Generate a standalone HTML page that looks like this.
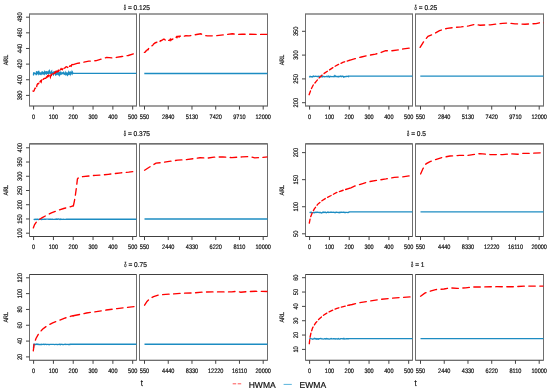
<!DOCTYPE html><html><head><meta charset="utf-8"><style>html,body{margin:0;padding:0;background:#fff;}svg{display:block;}</style></head><body><svg width="550" height="392" viewBox="0 0 550 392" font-family="'Liberation Sans', Arial, sans-serif" text-rendering="geometricPrecision"><defs><clipPath id="cA0"><rect x="29.5" y="14" width="107" height="92"/></clipPath><clipPath id="cB0"><rect x="139.5" y="14" width="128" height="92"/></clipPath><clipPath id="cA1"><rect x="305.5" y="14" width="107" height="92"/></clipPath><clipPath id="cB1"><rect x="415.5" y="14" width="128" height="92"/></clipPath><clipPath id="cA2"><rect x="29.5" y="143.9" width="107" height="92.55"/></clipPath><clipPath id="cB2"><rect x="139.5" y="143.9" width="128" height="92.55"/></clipPath><clipPath id="cA3"><rect x="305.5" y="143.9" width="107" height="92.55"/></clipPath><clipPath id="cB3"><rect x="415.5" y="143.9" width="128" height="92.55"/></clipPath><clipPath id="cA4"><rect x="29.5" y="274.5" width="107" height="85.7"/></clipPath><clipPath id="cB4"><rect x="139.5" y="274.5" width="128" height="85.7"/></clipPath><clipPath id="cA5"><rect x="305.5" y="274.5" width="107" height="85.7"/></clipPath><clipPath id="cB5"><rect x="415.5" y="274.5" width="128" height="85.7"/></clipPath></defs><rect width="550" height="392" fill="#fff"/><path d="M29.5,14H136.5M29.5,106H136.5" stroke="#404040" stroke-width="1.1" fill="none"/>
<path d="M29.5,13.5V106.5M136.5,13.5V106.5" stroke="#6e6e6e" stroke-width="1" fill="none"/>
<path d="M139.5,14H267.5M139.5,106H267.5" stroke="#404040" stroke-width="1.1" fill="none"/>
<path d="M139.5,13.5V106.5M267.5,13.5V106.5" stroke="#6e6e6e" stroke-width="1" fill="none"/>
<line x1="33.6" y1="106" x2="33.6" y2="109.6" stroke="#444"/>
<text transform="translate(33.6,118.9) scale(0.87,1)" font-size="6.4" text-anchor="middle" fill="#111" stroke="#111" stroke-width="0.2">0</text>
<line x1="53.41" y1="106" x2="53.41" y2="109.6" stroke="#444"/>
<text transform="translate(53.41,118.9) scale(0.87,1)" font-size="6.4" text-anchor="middle" fill="#111" stroke="#111" stroke-width="0.2">100</text>
<line x1="73.23" y1="106" x2="73.23" y2="109.6" stroke="#444"/>
<text transform="translate(73.23,118.9) scale(0.87,1)" font-size="6.4" text-anchor="middle" fill="#111" stroke="#111" stroke-width="0.2">200</text>
<line x1="93.05" y1="106" x2="93.05" y2="109.6" stroke="#444"/>
<text transform="translate(93.05,118.9) scale(0.87,1)" font-size="6.4" text-anchor="middle" fill="#111" stroke="#111" stroke-width="0.2">300</text>
<line x1="112.86" y1="106" x2="112.86" y2="109.6" stroke="#444"/>
<text transform="translate(112.86,118.9) scale(0.87,1)" font-size="6.4" text-anchor="middle" fill="#111" stroke="#111" stroke-width="0.2">400</text>
<line x1="132.68" y1="106" x2="132.68" y2="109.6" stroke="#444"/>
<text transform="translate(132.68,118.9) scale(0.87,1)" font-size="6.4" text-anchor="middle" fill="#111" stroke="#111" stroke-width="0.2">500</text>
<line x1="144.5" y1="106" x2="144.5" y2="109.6" stroke="#444"/>
<text transform="translate(144.5,118.9) scale(0.87,1)" font-size="6.4" text-anchor="middle" fill="#111" stroke="#111" stroke-width="0.2">550</text>
<line x1="168.24" y1="106" x2="168.24" y2="109.6" stroke="#444"/>
<text transform="translate(168.24,118.9) scale(0.87,1)" font-size="6.4" text-anchor="middle" fill="#111" stroke="#111" stroke-width="0.2">2840</text>
<line x1="191.98" y1="106" x2="191.98" y2="109.6" stroke="#444"/>
<text transform="translate(191.98,118.9) scale(0.87,1)" font-size="6.4" text-anchor="middle" fill="#111" stroke="#111" stroke-width="0.2">5130</text>
<line x1="215.72" y1="106" x2="215.72" y2="109.6" stroke="#444"/>
<text transform="translate(215.72,118.9) scale(0.87,1)" font-size="6.4" text-anchor="middle" fill="#111" stroke="#111" stroke-width="0.2">7420</text>
<line x1="239.46" y1="106" x2="239.46" y2="109.6" stroke="#444"/>
<text transform="translate(239.46,118.9) scale(0.87,1)" font-size="6.4" text-anchor="middle" fill="#111" stroke="#111" stroke-width="0.2">9710</text>
<line x1="263.2" y1="106" x2="263.2" y2="109.6" stroke="#444"/>
<text transform="translate(263.2,118.9) scale(0.87,1)" font-size="6.4" text-anchor="middle" fill="#111" stroke="#111" stroke-width="0.2">12000</text>
<line x1="29.5" y1="95.4" x2="26" y2="95.4" stroke="#444"/>
<text transform="translate(21.9,95.4) rotate(-90) scale(0.86,1)" font-size="6.6" text-anchor="middle" fill="#111" stroke="#111" stroke-width="0.2">380</text>
<line x1="29.5" y1="79.76" x2="26" y2="79.76" stroke="#444"/>
<text transform="translate(21.9,79.76) rotate(-90) scale(0.86,1)" font-size="6.6" text-anchor="middle" fill="#111" stroke="#111" stroke-width="0.2">400</text>
<line x1="29.5" y1="64.12" x2="26" y2="64.12" stroke="#444"/>
<text transform="translate(21.9,64.12) rotate(-90) scale(0.86,1)" font-size="6.6" text-anchor="middle" fill="#111" stroke="#111" stroke-width="0.2">420</text>
<line x1="29.5" y1="48.48" x2="26" y2="48.48" stroke="#444"/>
<text transform="translate(21.9,48.48) rotate(-90) scale(0.86,1)" font-size="6.6" text-anchor="middle" fill="#111" stroke="#111" stroke-width="0.2">440</text>
<line x1="29.5" y1="32.84" x2="26" y2="32.84" stroke="#444"/>
<text transform="translate(21.9,32.84) rotate(-90) scale(0.86,1)" font-size="6.6" text-anchor="middle" fill="#111" stroke="#111" stroke-width="0.2">460</text>
<line x1="29.5" y1="17.2" x2="26" y2="17.2" stroke="#444"/>
<text transform="translate(21.9,17.2) rotate(-90) scale(0.86,1)" font-size="6.6" text-anchor="middle" fill="#111" stroke="#111" stroke-width="0.2">480</text>
<text transform="translate(7.9,60) rotate(-90) scale(0.86,1)" font-size="6.3" text-anchor="middle" fill="#111" stroke="#111" stroke-width="0.2">ARL</text>
<text transform="translate(123.7,9.7) scale(0.58,1)" font-size="7.0" text-anchor="start" fill="#111" stroke="#111" stroke-width="0.2">δ</text>
<text transform="translate(127.9,9.7) scale(0.935,1)" font-size="7.0" text-anchor="start" fill="#111" stroke="#111" stroke-width="0.2">= 0.125</text>
<path d="M33.1,74.69 L33.45,74.84 L33.8,72.32 L34.15,73.43 L34.5,73.6 L34.85,73.53 L35.2,73.4 L35.55,73.34 L35.9,73.71 L36.25,75.17 L36.6,71.19 L36.95,72.81 L37.3,73.19 L37.65,73.51 L38,72.71 L38.35,73.42 L38.7,70.72 L39.05,73.6 L39.4,73.02 L39.75,72.93 L40.1,74.01 L40.45,73.97 L40.8,74.29 L41.15,73.03 L41.5,73 L41.85,74.55 L42.2,71.28 L42.55,73.36 L42.9,72.92 L43.25,73.68 L43.6,73 L43.95,72.63 L44.3,73.59 L44.65,72.34 L45,73.66 L45.35,73.45 L45.7,71.32 L46.05,72.92 L46.4,73.54 L46.75,72.33 L47.1,71.29 L47.45,73.22 L47.8,73.27 L48.15,72.63 L48.5,74.16 L48.85,71.81 L49.2,72.33 L49.55,71.3 L49.9,72.9 L50.25,73.16 L50.6,72.93 L50.95,73.99 L51.3,71.82 L51.65,71.32 L52,74.33 L52.35,72.29 L52.7,73.35 L53.05,74.41 L53.4,74.73 L53.75,71.96 L54.1,71.84 L54.45,72.68 L54.8,73.19 L55.15,72.57 L55.5,74.16 L55.85,73.51 L56.2,74.68 L56.55,74.44 L56.9,71.76 L57.25,70.82 L57.6,74.03 L57.95,74.39 L58.3,73.77 L58.65,75.39 L59,73.58 L59.35,74.45 L59.7,71.94 L60.05,74.33 L60.4,73.84 L60.75,72.96 L61.1,74.5 L61.45,72.96 L61.8,72.97 L62.15,73.48 L62.5,73.01 L62.85,73.22 L63.2,73.16 L63.55,72.61 L63.9,73.68 L64.25,74.39 L64.6,74.2 L64.95,74.01 L65.3,72.77 L65.65,73.77 L66,72.47 L66.35,75.14 L66.7,73.63 L67.05,74.36 L67.4,72.65 L67.75,74.52 L68.1,73.87 L68.45,72.57 L68.8,73.78 L69.15,73.17 L69.5,73.73 L69.85,72.89 L70.2,73.98 L70.55,72.77 L70.9,73.35 L71.25,72.01 L71.6,73.67 L71.95,72.29 L72.3,73.52 L72.65,72.82 L73,73.81 L73,73.4 L138,73.4" fill="none" stroke="#1c8cc2" stroke-width="1.4" clip-path="url(#cA0)"/>
<path d="M144.3,73.5 L268,73.5" fill="none" stroke="#1c8cc2" stroke-width="1.4" clip-path="url(#cB0)"/>
<path d="M33,91.03 L33.52,91.21 L34.04,90.85 L34.56,89.32 L35.08,88.17 L35.6,88.16 L36.1,87.54 L36.6,86.96 L37.1,84.77 L37.6,83.81 L38.1,83.99 L38.62,83.34 L39.13,83.41 L39.65,82.59 L40.17,81.48 L40.68,80.87 L41.2,81.91 L41.66,80.06 L42.11,79.51 L42.57,79.04 L43.02,79.44 L43.48,79.19 L43.93,78.64 L44.39,78.52 L44.84,78.43 L45.3,78.38 L45.75,78.34 L46.2,77.59 L46.65,76.23 L47.1,77.34 L47.55,75.91 L48,76.33 L48.45,75.35 L48.9,75.9 L49.4,75.26 L49.9,75.59 L50.4,77.07 L50.9,75.02 L51.4,75.29 L51.9,73.89 L52.4,74.24 L52.86,74.48 L53.31,73.77 L53.77,73.74 L54.22,73.3 L54.68,72.4 L55.13,72.98 L55.59,71.93 L56.04,73.12 L56.5,71.52 L56.96,71.9 L57.41,71.25 L57.87,71.49 L58.32,70.36 L58.78,70.96 L59.23,70.07 L59.69,70.55 L60.14,69.92 L60.6,69.38 L61.08,68.7 L61.55,69.37 L62.02,69.03 L62.5,69.5 L62.98,68.22 L63.45,68.56 L63.92,68.35 L64.4,68.06 L64.88,67.84 L65.35,67.65 L65.83,67.05 L66.3,66.64 L66.78,66.79 L67.27,67.14 L67.75,67.45 L68.24,66.97 L68.72,66.82 L69.21,66.47 L69.69,66.24 L70.18,65.76 L70.66,65.89 L71.15,66.25 L71.63,64.9 L72.12,64.51 L72.6,64.7 L73.2,64.53" fill="none" stroke="#f00" stroke-width="1.35" stroke-dasharray="4.5 2.0" stroke-linecap="round" clip-path="url(#cA0)"/>
<path d="M73.2,64.53 L77.1,63.4 L82,62.6 L88.8,61.2 L96.4,60.6 L106.6,57.4 L113,58 L121.9,56.5 L128.3,55.5 L135.3,53.3 L138,52.5" fill="none" stroke="#f00" stroke-width="1.35" stroke-dasharray="6.5 4.5" stroke-linecap="round" clip-path="url(#cA0)"/>
<path d="M144.4,52.39 L144.93,52.38 L145.45,51.6 L145.97,50.93 L146.5,50.84 L147.06,50.04 L147.62,49.44 L148.18,49.69 L148.74,48.41 L149.3,47.66 L149.87,47.04 L150.43,46.75 L151,46.58 L151.57,46.06 L152.13,45.58 L152.7,45.25 L153.2,44.7 L153.7,43.83 L154.2,43.58 L154.78,43.14 L155.36,42.51 L155.94,42.8 L156.52,42.34 L157.1,42.04 L157.62,42.67 L158.15,42.09 L158.67,41.5 L159.2,41.49 L159.8,41.99 L160.4,40.73 L161,40.73 L161.6,40.34 L162.12,40.12 L162.64,39.97 L163.16,39.41 L163.68,39.24 L164.2,39.16 L164.77,39.44 L165.35,40.21 L165.93,40.82 L166.5,40.3 L167.04,40.79 L167.58,40.23 L168.12,40.31 L168.66,40.45 L169.2,40.56 L169.75,40.15 L170.3,39.16 L170.85,40.36 L171.4,39.56 L171.95,39.21 L172.5,39.46 L173,38.81 L173.5,38.31 L174,38.79 L174.5,38.57 L175,37.93 L175.5,38.18 L176,37.67 L176.5,36.8 L177,37.48 L177.5,36.61 L178.01,36.11 L178.52,36.66 L179.03,36.53 L179.54,36.82 L180.05,35.99 L180.56,36.83 L181.07,36.78 L181.58,36.69 L182.09,36.65 L182.6,36.4 L185.8,35.8 L189,35.9 L194.1,34.9 L200.7,33.8 L204,35.3 L207.3,35.8 L215.6,35.8 L223.9,34.8 L232.2,33.8 L237,34.4 L242.1,34.2 L245.5,34.2 L257.4,34.4 L268,34.3" fill="none" stroke="#f00" stroke-width="1.35" stroke-dasharray="6.5 4.5" stroke-linecap="round" clip-path="url(#cB0)"/>
<path d="M305.5,14H412.5M305.5,106H412.5" stroke="#404040" stroke-width="1.1" fill="none"/>
<path d="M305.5,13.5V106.5M412.5,13.5V106.5" stroke="#6e6e6e" stroke-width="1" fill="none"/>
<path d="M415.5,14H543.5M415.5,106H543.5" stroke="#404040" stroke-width="1.1" fill="none"/>
<path d="M415.5,13.5V106.5M543.5,13.5V106.5" stroke="#6e6e6e" stroke-width="1" fill="none"/>
<line x1="309.6" y1="106" x2="309.6" y2="109.6" stroke="#444"/>
<text transform="translate(309.6,118.9) scale(0.87,1)" font-size="6.4" text-anchor="middle" fill="#111" stroke="#111" stroke-width="0.2">0</text>
<line x1="329.42" y1="106" x2="329.42" y2="109.6" stroke="#444"/>
<text transform="translate(329.42,118.9) scale(0.87,1)" font-size="6.4" text-anchor="middle" fill="#111" stroke="#111" stroke-width="0.2">100</text>
<line x1="349.23" y1="106" x2="349.23" y2="109.6" stroke="#444"/>
<text transform="translate(349.23,118.9) scale(0.87,1)" font-size="6.4" text-anchor="middle" fill="#111" stroke="#111" stroke-width="0.2">200</text>
<line x1="369.05" y1="106" x2="369.05" y2="109.6" stroke="#444"/>
<text transform="translate(369.05,118.9) scale(0.87,1)" font-size="6.4" text-anchor="middle" fill="#111" stroke="#111" stroke-width="0.2">300</text>
<line x1="388.86" y1="106" x2="388.86" y2="109.6" stroke="#444"/>
<text transform="translate(388.86,118.9) scale(0.87,1)" font-size="6.4" text-anchor="middle" fill="#111" stroke="#111" stroke-width="0.2">400</text>
<line x1="408.68" y1="106" x2="408.68" y2="109.6" stroke="#444"/>
<text transform="translate(408.68,118.9) scale(0.87,1)" font-size="6.4" text-anchor="middle" fill="#111" stroke="#111" stroke-width="0.2">500</text>
<line x1="420.5" y1="106" x2="420.5" y2="109.6" stroke="#444"/>
<text transform="translate(420.5,118.9) scale(0.87,1)" font-size="6.4" text-anchor="middle" fill="#111" stroke="#111" stroke-width="0.2">550</text>
<line x1="444.24" y1="106" x2="444.24" y2="109.6" stroke="#444"/>
<text transform="translate(444.24,118.9) scale(0.87,1)" font-size="6.4" text-anchor="middle" fill="#111" stroke="#111" stroke-width="0.2">2840</text>
<line x1="467.98" y1="106" x2="467.98" y2="109.6" stroke="#444"/>
<text transform="translate(467.98,118.9) scale(0.87,1)" font-size="6.4" text-anchor="middle" fill="#111" stroke="#111" stroke-width="0.2">5130</text>
<line x1="491.72" y1="106" x2="491.72" y2="109.6" stroke="#444"/>
<text transform="translate(491.72,118.9) scale(0.87,1)" font-size="6.4" text-anchor="middle" fill="#111" stroke="#111" stroke-width="0.2">7420</text>
<line x1="515.46" y1="106" x2="515.46" y2="109.6" stroke="#444"/>
<text transform="translate(515.46,118.9) scale(0.87,1)" font-size="6.4" text-anchor="middle" fill="#111" stroke="#111" stroke-width="0.2">9710</text>
<line x1="539.2" y1="106" x2="539.2" y2="109.6" stroke="#444"/>
<text transform="translate(539.2,118.9) scale(0.87,1)" font-size="6.4" text-anchor="middle" fill="#111" stroke="#111" stroke-width="0.2">12000</text>
<line x1="305.5" y1="102.7" x2="302" y2="102.7" stroke="#444"/>
<text transform="translate(297.9,102.7) rotate(-90) scale(0.86,1)" font-size="6.6" text-anchor="middle" fill="#111" stroke="#111" stroke-width="0.2">200</text>
<line x1="305.5" y1="78.9" x2="302" y2="78.9" stroke="#444"/>
<text transform="translate(297.9,78.9) rotate(-90) scale(0.86,1)" font-size="6.6" text-anchor="middle" fill="#111" stroke="#111" stroke-width="0.2">250</text>
<line x1="305.5" y1="55.1" x2="302" y2="55.1" stroke="#444"/>
<text transform="translate(297.9,55.1) rotate(-90) scale(0.86,1)" font-size="6.6" text-anchor="middle" fill="#111" stroke="#111" stroke-width="0.2">300</text>
<line x1="305.5" y1="31.3" x2="302" y2="31.3" stroke="#444"/>
<text transform="translate(297.9,31.3) rotate(-90) scale(0.86,1)" font-size="6.6" text-anchor="middle" fill="#111" stroke="#111" stroke-width="0.2">350</text>
<text transform="translate(283.9,60) rotate(-90) scale(0.86,1)" font-size="6.3" text-anchor="middle" fill="#111" stroke="#111" stroke-width="0.2">ARL</text>
<text transform="translate(414.6,9.6) scale(0.58,1)" font-size="7.0" text-anchor="start" fill="#111" stroke="#111" stroke-width="0.2">δ</text>
<text transform="translate(418.8,9.6) scale(0.935,1)" font-size="7.0" text-anchor="start" fill="#111" stroke="#111" stroke-width="0.2">= 0.25</text>
<path d="M309.3,77.42 L310.1,76.37 L310.9,76.74 L311.7,76.65 L312.5,76.88 L313.3,76.13 L314.1,76.46 L314.9,76.35 L315.7,76.25 L316.5,76.33 L317.3,76.44 L318.1,76.51 L318.9,76.31 L319.7,76.73 L320.5,76.43 L321.3,75.62 L322.1,76.96 L322.9,76.48 L323.7,76.38 L324.5,76.68 L325.3,76.67 L326.1,76.62 L326.9,76.35 L327.7,76.65 L328.5,76.17 L329.3,77 L330.1,76.25 L330.9,76.54 L331.7,76.61 L332.5,76.66 L333.3,76.53 L334.1,76.73 L334.9,75.66 L335.7,76.54 L336.5,76.53 L337.3,76.46 L338.1,76.95 L338.9,76.33 L339.7,76.55 L340.5,76.08 L341.3,76.63 L342.1,76.19 L342.9,76.21 L343.7,77.11 L344.5,76.73 L345.3,76.57 L346.1,76.61 L346.9,76.26 L347.7,76.35 L348.5,76.66 L348.6,76.1 L414,76.1" fill="none" stroke="#1c8cc2" stroke-width="1.4" clip-path="url(#cA1)"/>
<path d="M420.3,76.1 L544,76.1" fill="none" stroke="#1c8cc2" stroke-width="1.4" clip-path="url(#cB1)"/>
<path d="M309.1,94.7 L311,89.5 L313.3,84.9 L316.2,81.4 L319.6,77.4 L324.2,73.4 L329.4,69.9 L334.6,66.5 L338.5,64.4 L343.3,62.2 L349.2,60.44" fill="none" stroke="#f00" stroke-width="1.35" stroke-dasharray="4 2.6" stroke-linecap="round" clip-path="url(#cA1)"/>
<path d="M349.2,60.44 L351,59.9 L355,58.7 L361.4,57 L367.8,55.5 L375.4,54.2 L380.5,52.7 L385.6,50.7 L392,50.7 L398.4,49.8 L403.5,48.9 L411.1,47.9 L414,47.5" fill="none" stroke="#f00" stroke-width="1.35" stroke-dasharray="6.5 4.5" stroke-linecap="round" clip-path="url(#cA1)"/>
<path d="M420.1,47.4 L424.2,40.8 L428,36.3 L433.1,34.4 L439.5,30.6 L447.2,28.3 L454.8,27.4 L461.2,26.8 L468.8,25.9 L475.2,24.2 L480,25.2 L490.4,24.8 L502.7,23.3 L507.7,23 L515.1,23.8 L525,24.2 L536.1,23.6 L539.8,22.7 L544,22.7" fill="none" stroke="#f00" stroke-width="1.35" stroke-dasharray="6.5 4.5" stroke-linecap="round" clip-path="url(#cB1)"/>
<path d="M29.5,143.9H136.5M29.5,236.45H136.5" stroke="#404040" stroke-width="1.1" fill="none"/>
<path d="M29.5,143.4V236.95M136.5,143.4V236.95" stroke="#6e6e6e" stroke-width="1" fill="none"/>
<path d="M139.5,143.9H267.5M139.5,236.45H267.5" stroke="#404040" stroke-width="1.1" fill="none"/>
<path d="M139.5,143.4V236.95M267.5,143.4V236.95" stroke="#6e6e6e" stroke-width="1" fill="none"/>
<line x1="33.6" y1="236.45" x2="33.6" y2="240.05" stroke="#444"/>
<text transform="translate(33.6,249.35) scale(0.87,1)" font-size="6.4" text-anchor="middle" fill="#111" stroke="#111" stroke-width="0.2">0</text>
<line x1="53.41" y1="236.45" x2="53.41" y2="240.05" stroke="#444"/>
<text transform="translate(53.41,249.35) scale(0.87,1)" font-size="6.4" text-anchor="middle" fill="#111" stroke="#111" stroke-width="0.2">100</text>
<line x1="73.23" y1="236.45" x2="73.23" y2="240.05" stroke="#444"/>
<text transform="translate(73.23,249.35) scale(0.87,1)" font-size="6.4" text-anchor="middle" fill="#111" stroke="#111" stroke-width="0.2">200</text>
<line x1="93.05" y1="236.45" x2="93.05" y2="240.05" stroke="#444"/>
<text transform="translate(93.05,249.35) scale(0.87,1)" font-size="6.4" text-anchor="middle" fill="#111" stroke="#111" stroke-width="0.2">300</text>
<line x1="112.86" y1="236.45" x2="112.86" y2="240.05" stroke="#444"/>
<text transform="translate(112.86,249.35) scale(0.87,1)" font-size="6.4" text-anchor="middle" fill="#111" stroke="#111" stroke-width="0.2">400</text>
<line x1="132.68" y1="236.45" x2="132.68" y2="240.05" stroke="#444"/>
<text transform="translate(132.68,249.35) scale(0.87,1)" font-size="6.4" text-anchor="middle" fill="#111" stroke="#111" stroke-width="0.2">500</text>
<line x1="144.5" y1="236.45" x2="144.5" y2="240.05" stroke="#444"/>
<text transform="translate(144.5,249.35) scale(0.87,1)" font-size="6.4" text-anchor="middle" fill="#111" stroke="#111" stroke-width="0.2">550</text>
<line x1="168.24" y1="236.45" x2="168.24" y2="240.05" stroke="#444"/>
<text transform="translate(168.24,249.35) scale(0.87,1)" font-size="6.4" text-anchor="middle" fill="#111" stroke="#111" stroke-width="0.2">2440</text>
<line x1="191.98" y1="236.45" x2="191.98" y2="240.05" stroke="#444"/>
<text transform="translate(191.98,249.35) scale(0.87,1)" font-size="6.4" text-anchor="middle" fill="#111" stroke="#111" stroke-width="0.2">4330</text>
<line x1="215.72" y1="236.45" x2="215.72" y2="240.05" stroke="#444"/>
<text transform="translate(215.72,249.35) scale(0.87,1)" font-size="6.4" text-anchor="middle" fill="#111" stroke="#111" stroke-width="0.2">6220</text>
<line x1="239.46" y1="236.45" x2="239.46" y2="240.05" stroke="#444"/>
<text transform="translate(239.46,249.35) scale(0.87,1)" font-size="6.4" text-anchor="middle" fill="#111" stroke="#111" stroke-width="0.2">8110</text>
<line x1="263.2" y1="236.45" x2="263.2" y2="240.05" stroke="#444"/>
<text transform="translate(263.2,249.35) scale(0.87,1)" font-size="6.4" text-anchor="middle" fill="#111" stroke="#111" stroke-width="0.2">10000</text>
<line x1="29.5" y1="233.2" x2="26" y2="233.2" stroke="#444"/>
<text transform="translate(21.9,233.2) rotate(-90) scale(0.86,1)" font-size="6.6" text-anchor="middle" fill="#111" stroke="#111" stroke-width="0.2">100</text>
<line x1="29.5" y1="218.96" x2="26" y2="218.96" stroke="#444"/>
<text transform="translate(21.9,218.96) rotate(-90) scale(0.86,1)" font-size="6.6" text-anchor="middle" fill="#111" stroke="#111" stroke-width="0.2">150</text>
<line x1="29.5" y1="204.73" x2="26" y2="204.73" stroke="#444"/>
<text transform="translate(21.9,204.73) rotate(-90) scale(0.86,1)" font-size="6.6" text-anchor="middle" fill="#111" stroke="#111" stroke-width="0.2">200</text>
<line x1="29.5" y1="190.5" x2="26" y2="190.5" stroke="#444"/>
<text transform="translate(21.9,190.5) rotate(-90) scale(0.86,1)" font-size="6.6" text-anchor="middle" fill="#111" stroke="#111" stroke-width="0.2">250</text>
<line x1="29.5" y1="176.26" x2="26" y2="176.26" stroke="#444"/>
<text transform="translate(21.9,176.26) rotate(-90) scale(0.86,1)" font-size="6.6" text-anchor="middle" fill="#111" stroke="#111" stroke-width="0.2">300</text>
<line x1="29.5" y1="162.02" x2="26" y2="162.02" stroke="#444"/>
<text transform="translate(21.9,162.02) rotate(-90) scale(0.86,1)" font-size="6.6" text-anchor="middle" fill="#111" stroke="#111" stroke-width="0.2">350</text>
<line x1="29.5" y1="147.79" x2="26" y2="147.79" stroke="#444"/>
<text transform="translate(21.9,147.79) rotate(-90) scale(0.86,1)" font-size="6.6" text-anchor="middle" fill="#111" stroke="#111" stroke-width="0.2">400</text>
<text transform="translate(7.9,190.18) rotate(-90) scale(0.86,1)" font-size="6.3" text-anchor="middle" fill="#111" stroke="#111" stroke-width="0.2">ARL</text>
<text transform="translate(123.7,136.2) scale(0.58,1)" font-size="7.0" text-anchor="start" fill="#111" stroke="#111" stroke-width="0.2">δ</text>
<text transform="translate(127.9,136.2) scale(0.935,1)" font-size="7.0" text-anchor="start" fill="#111" stroke="#111" stroke-width="0.2">= 0.375</text>
<path d="M33.6,219.31 L34.4,219.49 L35.2,219.16 L36,219.44 L36.8,219.26 L37.6,219.26 L38.4,219.57 L39.2,219.32 L40,219.29 L40.8,219.4 L41.6,219.45 L42.4,219.3 L43.2,219.38 L44,219.17 L44.8,219.25 L45.6,219.24 L46.4,219.13 L47.2,219.11 L48,219.09 L48.8,219.27 L49.6,219.28 L50.4,219.26 L51.2,219.31 L52,219.14 L52.8,219.29 L53.6,219.33 L54.4,219.39 L55.2,219.2 L56,219.25 L56.8,219.07 L57.6,219.24 L58.4,219.06 L59.2,219.15 L60,219.42 L60.8,219.07 L61.6,219.38 L62.4,219.33 L63.2,219.27 L64,219.35 L64.8,219.35 L65.6,219.4 L66.4,219.28 L67.2,219.24 L68,219.24 L68.8,219.21 L69.6,219.3 L70,219.2 L138,219.2" fill="none" stroke="#1c8cc2" stroke-width="1.4" clip-path="url(#cA2)"/>
<path d="M144.5,219 L268,219" fill="none" stroke="#1c8cc2" stroke-width="1.4" clip-path="url(#cB2)"/>
<path d="M33.3,227.9 L34.6,224.6 L36.7,221.7 L39.2,219.5 L42.3,217.7 L46.3,215.4 L51.4,212.9 L57.6,210.5 L63.7,208.5 L69.8,207 L73.2,205.77" fill="none" stroke="#f00" stroke-width="1.35" stroke-dasharray="6.5 4.5" stroke-linecap="round" clip-path="url(#cA2)"/>
<path d="M73.2,205.77 L73.4,205.7 L74.4,201.1 L75.4,195 L76.5,187 L77.4,179.1 L78.3,177.9 L82.8,176.6 L95.5,175.3 L103.2,174.9 L108.3,174.3 L121,172.8 L128.7,172.1 L135.7,171.2 L138,170.9" fill="none" stroke="#f00" stroke-width="1.35" stroke-dasharray="6.5 4.5" stroke-linecap="round" clip-path="url(#cA2)"/>
<path d="M144.6,170.2 L150,166.8 L156,163.2 L162,162.6 L169.2,161.4 L177.6,160.2 L186,159.6 L194.4,158.6 L200,157.8 L207.6,158.1 L214,157.2 L222.9,156.9 L231.8,157.6 L242,156.9 L249.6,156.5 L254.7,157.8 L261.1,157.6 L268,156.8" fill="none" stroke="#f00" stroke-width="1.35" stroke-dasharray="6.5 4.5" stroke-linecap="round" clip-path="url(#cB2)"/>
<path d="M305.5,143.9H412.5M305.5,236.45H412.5" stroke="#404040" stroke-width="1.1" fill="none"/>
<path d="M305.5,143.4V236.95M412.5,143.4V236.95" stroke="#6e6e6e" stroke-width="1" fill="none"/>
<path d="M415.5,143.9H543.5M415.5,236.45H543.5" stroke="#404040" stroke-width="1.1" fill="none"/>
<path d="M415.5,143.4V236.95M543.5,143.4V236.95" stroke="#6e6e6e" stroke-width="1" fill="none"/>
<line x1="309.6" y1="236.45" x2="309.6" y2="240.05" stroke="#444"/>
<text transform="translate(309.6,249.35) scale(0.87,1)" font-size="6.4" text-anchor="middle" fill="#111" stroke="#111" stroke-width="0.2">0</text>
<line x1="329.42" y1="236.45" x2="329.42" y2="240.05" stroke="#444"/>
<text transform="translate(329.42,249.35) scale(0.87,1)" font-size="6.4" text-anchor="middle" fill="#111" stroke="#111" stroke-width="0.2">100</text>
<line x1="349.23" y1="236.45" x2="349.23" y2="240.05" stroke="#444"/>
<text transform="translate(349.23,249.35) scale(0.87,1)" font-size="6.4" text-anchor="middle" fill="#111" stroke="#111" stroke-width="0.2">200</text>
<line x1="369.05" y1="236.45" x2="369.05" y2="240.05" stroke="#444"/>
<text transform="translate(369.05,249.35) scale(0.87,1)" font-size="6.4" text-anchor="middle" fill="#111" stroke="#111" stroke-width="0.2">300</text>
<line x1="388.86" y1="236.45" x2="388.86" y2="240.05" stroke="#444"/>
<text transform="translate(388.86,249.35) scale(0.87,1)" font-size="6.4" text-anchor="middle" fill="#111" stroke="#111" stroke-width="0.2">400</text>
<line x1="408.68" y1="236.45" x2="408.68" y2="240.05" stroke="#444"/>
<text transform="translate(408.68,249.35) scale(0.87,1)" font-size="6.4" text-anchor="middle" fill="#111" stroke="#111" stroke-width="0.2">500</text>
<line x1="420.5" y1="236.45" x2="420.5" y2="240.05" stroke="#444"/>
<text transform="translate(420.5,249.35) scale(0.87,1)" font-size="6.4" text-anchor="middle" fill="#111" stroke="#111" stroke-width="0.2">550</text>
<line x1="444.24" y1="236.45" x2="444.24" y2="240.05" stroke="#444"/>
<text transform="translate(444.24,249.35) scale(0.87,1)" font-size="6.4" text-anchor="middle" fill="#111" stroke="#111" stroke-width="0.2">4440</text>
<line x1="467.98" y1="236.45" x2="467.98" y2="240.05" stroke="#444"/>
<text transform="translate(467.98,249.35) scale(0.87,1)" font-size="6.4" text-anchor="middle" fill="#111" stroke="#111" stroke-width="0.2">8330</text>
<line x1="491.72" y1="236.45" x2="491.72" y2="240.05" stroke="#444"/>
<text transform="translate(491.72,249.35) scale(0.87,1)" font-size="6.4" text-anchor="middle" fill="#111" stroke="#111" stroke-width="0.2">12220</text>
<line x1="515.46" y1="236.45" x2="515.46" y2="240.05" stroke="#444"/>
<text transform="translate(515.46,249.35) scale(0.87,1)" font-size="6.4" text-anchor="middle" fill="#111" stroke="#111" stroke-width="0.2">16110</text>
<line x1="539.2" y1="236.45" x2="539.2" y2="240.05" stroke="#444"/>
<text transform="translate(539.2,249.35) scale(0.87,1)" font-size="6.4" text-anchor="middle" fill="#111" stroke="#111" stroke-width="0.2">20000</text>
<line x1="305.5" y1="233.8" x2="302" y2="233.8" stroke="#444"/>
<text transform="translate(297.9,233.8) rotate(-90) scale(0.86,1)" font-size="6.6" text-anchor="middle" fill="#111" stroke="#111" stroke-width="0.2">50</text>
<line x1="305.5" y1="206.74" x2="302" y2="206.74" stroke="#444"/>
<text transform="translate(297.9,206.74) rotate(-90) scale(0.86,1)" font-size="6.6" text-anchor="middle" fill="#111" stroke="#111" stroke-width="0.2">100</text>
<line x1="305.5" y1="179.67" x2="302" y2="179.67" stroke="#444"/>
<text transform="translate(297.9,179.67) rotate(-90) scale(0.86,1)" font-size="6.6" text-anchor="middle" fill="#111" stroke="#111" stroke-width="0.2">150</text>
<line x1="305.5" y1="152.61" x2="302" y2="152.61" stroke="#444"/>
<text transform="translate(297.9,152.61) rotate(-90) scale(0.86,1)" font-size="6.6" text-anchor="middle" fill="#111" stroke="#111" stroke-width="0.2">200</text>
<text transform="translate(283.9,190.18) rotate(-90) scale(0.86,1)" font-size="6.3" text-anchor="middle" fill="#111" stroke="#111" stroke-width="0.2">ARL</text>
<text transform="translate(407,136.2) scale(0.58,1)" font-size="7.0" text-anchor="start" fill="#111" stroke="#111" stroke-width="0.2">δ</text>
<text transform="translate(411.2,136.2) scale(0.935,1)" font-size="7.0" text-anchor="start" fill="#111" stroke="#111" stroke-width="0.2">= 0.5</text>
<path d="M309.5,212.41 L310.3,212.52 L311.1,212.29 L311.9,212.49 L312.7,212.62 L313.5,212.5 L314.3,212.77 L315.1,212.19 L315.9,212.42 L316.7,212.24 L317.5,212.22 L318.3,212.36 L319.1,212.45 L319.9,212.49 L320.7,212.51 L321.5,212.89 L322.3,212.59 L323.1,212.06 L323.9,212.44 L324.7,212.27 L325.5,212.29 L326.3,212.67 L327.1,212.35 L327.9,212 L328.7,212.46 L329.5,212.34 L330.3,212.17 L331.1,212.22 L331.9,212.28 L332.7,212.4 L333.5,212.32 L334.3,212.41 L335.1,212.74 L335.9,212.25 L336.7,212.25 L337.5,212.36 L338.3,212.59 L339.1,212.28 L339.9,212.65 L340.7,212.18 L341.5,212.23 L342.3,212.39 L343.1,212.26 L343.9,212.3 L344.7,212.47 L345.5,212.52 L346.3,212.42 L347.1,212.36 L347.9,212.61 L348.7,212.46 L349,211.9 L414,211.9" fill="none" stroke="#1c8cc2" stroke-width="1.4" clip-path="url(#cA3)"/>
<path d="M420.5,211.9 L544,211.9" fill="none" stroke="#1c8cc2" stroke-width="1.4" clip-path="url(#cB3)"/>
<path d="M309.3,223.1 L310.4,217.4 L312.2,212.8 L314.5,208.7 L317.9,204.1 L321.9,200.7 L326.5,197.8 L331.1,195.5 L336.3,192.6 L343.3,190.2 L349.2,188.41" fill="none" stroke="#f00" stroke-width="1.35" stroke-dasharray="4 2.6" stroke-linecap="round" clip-path="url(#cA3)"/>
<path d="M349.2,188.41 L350.9,187.9 L355,186 L362,183.8 L369,181.7 L377.4,180.3 L385.9,178.9 L394.3,177.3 L402.7,176.8 L411.8,175.4 L414,175.1" fill="none" stroke="#f00" stroke-width="1.35" stroke-dasharray="6.5 4.5" stroke-linecap="round" clip-path="url(#cA3)"/>
<path d="M420.6,174 L423,168.6 L426,163.8 L429.6,161.8 L435.6,159.6 L442.8,157.4 L450,156 L459.6,155.4 L468,155.4 L475.2,154.2 L480,153.6 L490.4,154.6 L502.7,154.6 L510.1,153.8 L517.6,154.2 L522.5,153.3 L531.2,153.3 L544,152.6" fill="none" stroke="#f00" stroke-width="1.35" stroke-dasharray="6.5 4.5" stroke-linecap="round" clip-path="url(#cB3)"/>
<path d="M29.5,274.5H136.5M29.5,360.2H136.5" stroke="#404040" stroke-width="1.1" fill="none"/>
<path d="M29.5,274V360.7M136.5,274V360.7" stroke="#6e6e6e" stroke-width="1" fill="none"/>
<path d="M139.5,274.5H267.5M139.5,360.2H267.5" stroke="#404040" stroke-width="1.1" fill="none"/>
<path d="M139.5,274V360.7M267.5,274V360.7" stroke="#6e6e6e" stroke-width="1" fill="none"/>
<line x1="33.6" y1="360.2" x2="33.6" y2="363.8" stroke="#444"/>
<text transform="translate(33.6,373.1) scale(0.87,1)" font-size="6.4" text-anchor="middle" fill="#111" stroke="#111" stroke-width="0.2">0</text>
<line x1="53.41" y1="360.2" x2="53.41" y2="363.8" stroke="#444"/>
<text transform="translate(53.41,373.1) scale(0.87,1)" font-size="6.4" text-anchor="middle" fill="#111" stroke="#111" stroke-width="0.2">100</text>
<line x1="73.23" y1="360.2" x2="73.23" y2="363.8" stroke="#444"/>
<text transform="translate(73.23,373.1) scale(0.87,1)" font-size="6.4" text-anchor="middle" fill="#111" stroke="#111" stroke-width="0.2">200</text>
<line x1="93.05" y1="360.2" x2="93.05" y2="363.8" stroke="#444"/>
<text transform="translate(93.05,373.1) scale(0.87,1)" font-size="6.4" text-anchor="middle" fill="#111" stroke="#111" stroke-width="0.2">300</text>
<line x1="112.86" y1="360.2" x2="112.86" y2="363.8" stroke="#444"/>
<text transform="translate(112.86,373.1) scale(0.87,1)" font-size="6.4" text-anchor="middle" fill="#111" stroke="#111" stroke-width="0.2">400</text>
<line x1="132.68" y1="360.2" x2="132.68" y2="363.8" stroke="#444"/>
<text transform="translate(132.68,373.1) scale(0.87,1)" font-size="6.4" text-anchor="middle" fill="#111" stroke="#111" stroke-width="0.2">500</text>
<line x1="144.5" y1="360.2" x2="144.5" y2="363.8" stroke="#444"/>
<text transform="translate(144.5,373.1) scale(0.87,1)" font-size="6.4" text-anchor="middle" fill="#111" stroke="#111" stroke-width="0.2">550</text>
<line x1="168.24" y1="360.2" x2="168.24" y2="363.8" stroke="#444"/>
<text transform="translate(168.24,373.1) scale(0.87,1)" font-size="6.4" text-anchor="middle" fill="#111" stroke="#111" stroke-width="0.2">4440</text>
<line x1="191.98" y1="360.2" x2="191.98" y2="363.8" stroke="#444"/>
<text transform="translate(191.98,373.1) scale(0.87,1)" font-size="6.4" text-anchor="middle" fill="#111" stroke="#111" stroke-width="0.2">8330</text>
<line x1="215.72" y1="360.2" x2="215.72" y2="363.8" stroke="#444"/>
<text transform="translate(215.72,373.1) scale(0.87,1)" font-size="6.4" text-anchor="middle" fill="#111" stroke="#111" stroke-width="0.2">12220</text>
<line x1="239.46" y1="360.2" x2="239.46" y2="363.8" stroke="#444"/>
<text transform="translate(239.46,373.1) scale(0.87,1)" font-size="6.4" text-anchor="middle" fill="#111" stroke="#111" stroke-width="0.2">16110</text>
<line x1="263.2" y1="360.2" x2="263.2" y2="363.8" stroke="#444"/>
<text transform="translate(263.2,373.1) scale(0.87,1)" font-size="6.4" text-anchor="middle" fill="#111" stroke="#111" stroke-width="0.2">20000</text>
<line x1="29.5" y1="356.9" x2="26" y2="356.9" stroke="#444"/>
<text transform="translate(21.9,356.9) rotate(-90) scale(0.86,1)" font-size="6.6" text-anchor="middle" fill="#111" stroke="#111" stroke-width="0.2">20</text>
<line x1="29.5" y1="341.08" x2="26" y2="341.08" stroke="#444"/>
<text transform="translate(21.9,341.08) rotate(-90) scale(0.86,1)" font-size="6.6" text-anchor="middle" fill="#111" stroke="#111" stroke-width="0.2">40</text>
<line x1="29.5" y1="325.26" x2="26" y2="325.26" stroke="#444"/>
<text transform="translate(21.9,325.26) rotate(-90) scale(0.86,1)" font-size="6.6" text-anchor="middle" fill="#111" stroke="#111" stroke-width="0.2">60</text>
<line x1="29.5" y1="309.44" x2="26" y2="309.44" stroke="#444"/>
<text transform="translate(21.9,309.44) rotate(-90) scale(0.86,1)" font-size="6.6" text-anchor="middle" fill="#111" stroke="#111" stroke-width="0.2">80</text>
<line x1="29.5" y1="293.62" x2="26" y2="293.62" stroke="#444"/>
<text transform="translate(21.9,293.62) rotate(-90) scale(0.86,1)" font-size="6.6" text-anchor="middle" fill="#111" stroke="#111" stroke-width="0.2">100</text>
<line x1="29.5" y1="277.8" x2="26" y2="277.8" stroke="#444"/>
<text transform="translate(21.9,277.8) rotate(-90) scale(0.86,1)" font-size="6.6" text-anchor="middle" fill="#111" stroke="#111" stroke-width="0.2">120</text>
<text transform="translate(7.9,317.35) rotate(-90) scale(0.86,1)" font-size="6.3" text-anchor="middle" fill="#111" stroke="#111" stroke-width="0.2">ARL</text>
<text transform="translate(124.2,267.1) scale(0.58,1)" font-size="7.0" text-anchor="start" fill="#111" stroke="#111" stroke-width="0.2">δ</text>
<text transform="translate(128.4,267.1) scale(0.935,1)" font-size="7.0" text-anchor="start" fill="#111" stroke="#111" stroke-width="0.2">= 0.75</text>
<path d="M33.5,348 L33.9,344.22 L34.7,344.23 L35.5,344.5 L36.3,344.07 L37.1,344.38 L37.9,344.08 L38.7,344.56 L39.5,344.43 L40.3,344.59 L41.1,344.33 L41.9,344.45 L42.7,344.36 L43.5,344.3 L44.3,344.42 L45.1,344.23 L45.9,344.35 L46.7,344.49 L47.5,344.41 L48.3,344.35 L49.1,344.67 L49.9,344.41 L50.7,344.33 L51.5,344.42 L52.3,344.34 L53.1,344.35 L53.9,344.36 L54.7,344.63 L55.5,344.4 L56.3,344.42 L57.1,344.48 L57.9,344.62 L58.7,344.38 L59.5,344.33 L60.3,344.66 L61.1,344.25 L61.9,344.36 L62.7,344.47 L63.5,344.63 L64.3,344.31 L65.1,344.16 L65.9,344.46 L66.7,344.35 L67.5,344.36 L68.3,344.44 L69.1,344.42 L69.9,344.43 L70,344.3 L138,344.3" fill="none" stroke="#1c8cc2" stroke-width="1.4" clip-path="url(#cA4)"/>
<path d="M144.5,344.3 L268,344.3" fill="none" stroke="#1c8cc2" stroke-width="1.4" clip-path="url(#cB4)"/>
<path d="M33.3,350.9 L34.2,343.3 L36.1,338.2 L38.7,333.7 L42.5,329.2 L47.6,325.4 L52.7,322.9 L57.8,320.9 L64.1,318.3 L71.1,316.2 L73.2,315.78" fill="none" stroke="#f00" stroke-width="1.35" stroke-dasharray="6.5 4.5" stroke-linecap="round" clip-path="url(#cA4)"/>
<path d="M73.2,315.78 L80,314.4 L86.5,313 L96.4,311.6 L106.2,310 L117.1,308.6 L126.9,307.5 L135.6,306.5 L138,306.2" fill="none" stroke="#f00" stroke-width="1.35" stroke-dasharray="6.5 4.5" stroke-linecap="round" clip-path="url(#cA4)"/>
<path d="M144.6,305.2 L147,301.4 L150,298.6 L153.6,296.6 L158.4,295 L165.6,294.4 L174,293.8 L183.6,293.2 L193.2,293 L203.4,292 L212.7,291.9 L231.8,291.9 L236.9,291.3 L240.7,292.2 L249.6,291.5 L256,291.3 L268,291.5" fill="none" stroke="#f00" stroke-width="1.35" stroke-dasharray="6.5 4.5" stroke-linecap="round" clip-path="url(#cB4)"/>
<path d="M305.5,274.5H412.5M305.5,360.2H412.5" stroke="#404040" stroke-width="1.1" fill="none"/>
<path d="M305.5,274V360.7M412.5,274V360.7" stroke="#6e6e6e" stroke-width="1" fill="none"/>
<path d="M415.5,274.5H543.5M415.5,360.2H543.5" stroke="#404040" stroke-width="1.1" fill="none"/>
<path d="M415.5,274V360.7M543.5,274V360.7" stroke="#6e6e6e" stroke-width="1" fill="none"/>
<line x1="309.6" y1="360.2" x2="309.6" y2="363.8" stroke="#444"/>
<text transform="translate(309.6,373.1) scale(0.87,1)" font-size="6.4" text-anchor="middle" fill="#111" stroke="#111" stroke-width="0.2">0</text>
<line x1="329.42" y1="360.2" x2="329.42" y2="363.8" stroke="#444"/>
<text transform="translate(329.42,373.1) scale(0.87,1)" font-size="6.4" text-anchor="middle" fill="#111" stroke="#111" stroke-width="0.2">100</text>
<line x1="349.23" y1="360.2" x2="349.23" y2="363.8" stroke="#444"/>
<text transform="translate(349.23,373.1) scale(0.87,1)" font-size="6.4" text-anchor="middle" fill="#111" stroke="#111" stroke-width="0.2">200</text>
<line x1="369.05" y1="360.2" x2="369.05" y2="363.8" stroke="#444"/>
<text transform="translate(369.05,373.1) scale(0.87,1)" font-size="6.4" text-anchor="middle" fill="#111" stroke="#111" stroke-width="0.2">300</text>
<line x1="388.86" y1="360.2" x2="388.86" y2="363.8" stroke="#444"/>
<text transform="translate(388.86,373.1) scale(0.87,1)" font-size="6.4" text-anchor="middle" fill="#111" stroke="#111" stroke-width="0.2">400</text>
<line x1="408.68" y1="360.2" x2="408.68" y2="363.8" stroke="#444"/>
<text transform="translate(408.68,373.1) scale(0.87,1)" font-size="6.4" text-anchor="middle" fill="#111" stroke="#111" stroke-width="0.2">500</text>
<line x1="420.5" y1="360.2" x2="420.5" y2="363.8" stroke="#444"/>
<text transform="translate(420.5,373.1) scale(0.87,1)" font-size="6.4" text-anchor="middle" fill="#111" stroke="#111" stroke-width="0.2">550</text>
<line x1="444.24" y1="360.2" x2="444.24" y2="363.8" stroke="#444"/>
<text transform="translate(444.24,373.1) scale(0.87,1)" font-size="6.4" text-anchor="middle" fill="#111" stroke="#111" stroke-width="0.2">2440</text>
<line x1="467.98" y1="360.2" x2="467.98" y2="363.8" stroke="#444"/>
<text transform="translate(467.98,373.1) scale(0.87,1)" font-size="6.4" text-anchor="middle" fill="#111" stroke="#111" stroke-width="0.2">4330</text>
<line x1="491.72" y1="360.2" x2="491.72" y2="363.8" stroke="#444"/>
<text transform="translate(491.72,373.1) scale(0.87,1)" font-size="6.4" text-anchor="middle" fill="#111" stroke="#111" stroke-width="0.2">6220</text>
<line x1="515.46" y1="360.2" x2="515.46" y2="363.8" stroke="#444"/>
<text transform="translate(515.46,373.1) scale(0.87,1)" font-size="6.4" text-anchor="middle" fill="#111" stroke="#111" stroke-width="0.2">8110</text>
<line x1="539.2" y1="360.2" x2="539.2" y2="363.8" stroke="#444"/>
<text transform="translate(539.2,373.1) scale(0.87,1)" font-size="6.4" text-anchor="middle" fill="#111" stroke="#111" stroke-width="0.2">10000</text>
<line x1="305.5" y1="349.4" x2="302" y2="349.4" stroke="#444"/>
<text transform="translate(297.9,349.4) rotate(-90) scale(0.86,1)" font-size="6.6" text-anchor="middle" fill="#111" stroke="#111" stroke-width="0.2">10</text>
<line x1="305.5" y1="335.06" x2="302" y2="335.06" stroke="#444"/>
<text transform="translate(297.9,335.06) rotate(-90) scale(0.86,1)" font-size="6.6" text-anchor="middle" fill="#111" stroke="#111" stroke-width="0.2">20</text>
<line x1="305.5" y1="320.72" x2="302" y2="320.72" stroke="#444"/>
<text transform="translate(297.9,320.72) rotate(-90) scale(0.86,1)" font-size="6.6" text-anchor="middle" fill="#111" stroke="#111" stroke-width="0.2">30</text>
<line x1="305.5" y1="306.38" x2="302" y2="306.38" stroke="#444"/>
<text transform="translate(297.9,306.38) rotate(-90) scale(0.86,1)" font-size="6.6" text-anchor="middle" fill="#111" stroke="#111" stroke-width="0.2">40</text>
<line x1="305.5" y1="292.04" x2="302" y2="292.04" stroke="#444"/>
<text transform="translate(297.9,292.04) rotate(-90) scale(0.86,1)" font-size="6.6" text-anchor="middle" fill="#111" stroke="#111" stroke-width="0.2">50</text>
<line x1="305.5" y1="277.7" x2="302" y2="277.7" stroke="#444"/>
<text transform="translate(297.9,277.7) rotate(-90) scale(0.86,1)" font-size="6.6" text-anchor="middle" fill="#111" stroke="#111" stroke-width="0.2">60</text>
<text transform="translate(283.9,317.35) rotate(-90) scale(0.86,1)" font-size="6.3" text-anchor="middle" fill="#111" stroke="#111" stroke-width="0.2">ARL</text>
<text transform="translate(411,266.9) scale(0.58,1)" font-size="7.0" text-anchor="start" fill="#111" stroke="#111" stroke-width="0.2">δ</text>
<text transform="translate(415.2,266.9) scale(0.935,1)" font-size="7.0" text-anchor="start" fill="#111" stroke="#111" stroke-width="0.2">= 1</text>
<path d="M309.5,338.92 L310.3,338.36 L311.1,338.61 L311.9,338.82 L312.7,339.16 L313.5,338.8 L314.3,338.41 L315.1,338.87 L315.9,338.52 L316.7,339.08 L317.5,338.74 L318.3,339.21 L319.1,338.77 L319.9,338.57 L320.7,338.47 L321.5,338.72 L322.3,338.9 L323.1,339.06 L323.9,338.86 L324.7,338.64 L325.5,338.9 L326.3,338.5 L327.1,338.9 L327.9,338.65 L328.7,339.1 L329.5,339 L330.3,338.87 L331.1,338.6 L331.9,338.91 L332.7,338.87 L333.5,338.7 L334.3,338.68 L335.1,339.04 L335.9,338.73 L336.7,338.88 L337.5,339.05 L338.3,338.54 L339.1,339.11 L339.9,338.98 L340.7,338.69 L341.5,338.64 L342.3,338.6 L343.1,338.95 L343.9,338.38 L344.7,338.95 L345.5,338.83 L346.3,338.69 L347.1,338.72 L347.9,338.74 L348.7,338.77 L349,338.6 L414,338.6" fill="none" stroke="#1c8cc2" stroke-width="1.4" clip-path="url(#cA5)"/>
<path d="M420.5,338.6 L544,338.6" fill="none" stroke="#1c8cc2" stroke-width="1.4" clip-path="url(#cB5)"/>
<path d="M309.3,343.7 L309.9,337.9 L311,332.8 L312.7,327.6 L315.6,323 L319.1,319 L323.1,315.5 L327.7,312.6 L332.9,310.1 L336.9,308.3 L347.1,305.6 L349.2,305.15" fill="none" stroke="#f00" stroke-width="1.35" stroke-dasharray="4 2.6" stroke-linecap="round" clip-path="url(#cA5)"/>
<path d="M349.2,305.15 L352.2,304.5 L359.5,302.7 L370.1,301 L380.7,299.4 L391.4,298.2 L402,297.4 L412,296.8 L414,296.7" fill="none" stroke="#f00" stroke-width="1.35" stroke-dasharray="6.5 4.5" stroke-linecap="round" clip-path="url(#cA5)"/>
<path d="M420.6,296.2 L424.8,293.2 L429.6,291.4 L435.6,289.6 L444,289 L450,287.8 L457.2,288.4 L465.6,287.8 L472.8,287 L480,287 L496.5,286.7 L515.1,286.7 L525,286.1 L544,286.1" fill="none" stroke="#f00" stroke-width="1.35" stroke-dasharray="6.5 4.5" stroke-linecap="round" clip-path="url(#cB5)"/>
<text transform="translate(141.75,386.3) scale(0.87,1)" font-size="8.8" text-anchor="middle" fill="#111" stroke="#111" stroke-width="0.2">t</text>
<text transform="translate(415.6,386.3) scale(0.87,1)" font-size="8.8" text-anchor="middle" fill="#111" stroke="#111" stroke-width="0.2">t</text>
<line x1="232.7" y1="383.8" x2="242.3" y2="383.8" stroke="#f55" stroke-width="1" stroke-dasharray="3.5 1.5"/>
<text transform="translate(248.7,387.7) scale(0.98,1)" font-size="8.7" text-anchor="start" fill="#111" stroke="#111" stroke-width="0.2">HWMA</text>
<line x1="283.6" y1="384.4" x2="291.8" y2="384.4" stroke="#5ab4dc" stroke-width="1"/>
<text transform="translate(299.6,387.7) scale(0.98,1)" font-size="8.7" text-anchor="start" fill="#111" stroke="#111" stroke-width="0.2">EWMA</text></svg></body></html>
